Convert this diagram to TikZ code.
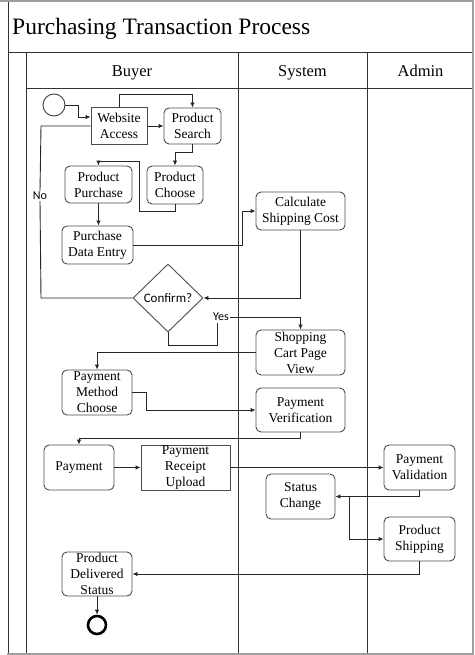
\documentclass[tikz,border=0pt]{standalone}
\usepackage{fontspec}
\setmainfont{Liberation Serif}
\newfontfamily\calib{Carlito}
\usetikzlibrary{arrows.meta,shapes.geometric}
\begin{document}
\begin{tikzpicture}[x=1pt,y=-1pt,
  box/.style={draw=black!70,line width=0.9pt,rounded corners=5pt,align=center,inner sep=0pt,font=\fontsize{13.5}{16}\selectfont},
  sbox/.style={box,rounded corners=0pt},
  conn/.style={draw=black!85,line width=0.9pt,-{Latex[length=5pt,width=4.5pt]}},
  plainline/.style={draw=black!85,line width=0.9pt},
  lane/.style={draw=black!80,line width=1pt},
  lbl/.style={font=\calib\fontsize{12}{14}\selectfont,fill=white,inner sep=1pt},
  hdr/.style={font=\fontsize{16.5}{19}\selectfont,anchor=base},
]
\useasboundingbox (0,0) rectangle (474,655);
% frame
\fill[gray!75] (0,0) rectangle (474,2);
\fill[gray!75] (472,0) rectangle (474,655);
\fill[gray!75] (7,652.5) rectangle (474,655);
\draw[lane] (8,2) -- (8,653);
\draw[lane] (8,53) -- (472,53);
\draw[lane] (26,53) -- (26,653);
\draw[lane] (26,89) -- (472,89);
\draw[lane] (238,53) -- (238,653);
\draw[lane] (367,53) -- (367,653);
\node[anchor=base west,inner sep=0pt,font=\fontsize{23.5}{26}\selectfont] (title) at (12,35) {Purchasing Transaction Process};
\node[hdr] (hb) at (132,77) {Buyer};
\node[hdr] (hs) at (302.5,77) {System};
\node[hdr] (ha) at (420.5,77) {Admin};
% nodes
\node[draw=black!75,line width=0.9pt,circle,minimum size=22pt,inner sep=0pt] (st) at (54,105) {};
\node[sbox,minimum width=56pt,minimum height=37pt] (wa) at (119,125.5) {Website\\Access};
\node[box,minimum width=57pt,minimum height=36pt] (ps) at (192.5,126) {Product\\Search};
\node[box,minimum width=67pt,minimum height=37pt] (pp) at (98.5,184.5) {Product\\Purchase};
\node[box,minimum width=56pt,minimum height=38pt] (pc) at (175,185) {Product\\Choose};
\node[box,minimum width=89pt,minimum height=38pt] (csc) at (300.5,211) {Calculate\\Shipping Cost};
\node[box,minimum width=71pt,minimum height=38pt] (pde) at (97.5,245) {Purchase\\Data Entry};
\node[diamond,draw=black!70,line width=0.9pt,minimum width=70pt,minimum height=68pt,inner sep=0pt,font=\calib\fontsize{13}{15}\selectfont] (cf) at (168,298) {Confirm?};
\node[box,minimum width=89pt,minimum height=45pt] (scp) at (300.5,352.5) {Shopping\\Cart Page\\View};
\node[box,minimum width=70pt,minimum height=45pt] (pmc) at (97,392.5) {Payment\\Method\\Choose};
\node[box,minimum width=89pt,minimum height=44pt] (pv) at (300.5,410) {Payment\\Verification};
\node[box,minimum width=70pt,minimum height=45pt] (pay) at (79,467.5) {Payment};
\node[sbox,minimum width=89pt,minimum height=45pt] (pru) at (185.5,467.5) {Payment\\Receipt\\Upload};
\node[box,minimum width=71pt,minimum height=45pt] (pval) at (419.5,467.5) {Payment\\Validation};
\node[box,minimum width=69pt,minimum height=45pt] (sc) at (300.5,496.5) {Status\\Change};
\node[box,minimum width=71pt,minimum height=44pt] (pship) at (419.5,539) {Product\\Shipping};
\node[box,minimum width=70pt,minimum height=44pt] (pds) at (97,574) {Product\\Delivered\\Status};
\node[draw=black,line width=2.6pt,circle,minimum size=18pt,inner sep=0pt] (en) at (97,625) {};
% labels
\node[lbl] (no) at (40,196) {No};
\node[lbl] (yes) at (221,317) {Yes};
\coordinate (j) at (349,496.5);
% connectors
\draw[conn] (st.east) -- (78,105) -- (78,117) -- (wa.west |- 0,117);
\draw[conn] (wa.east |- 0,126) -- (ps.west |- 0,126);
\draw[conn] (wa.north) -- (119,94) -| (ps.north);
\draw[conn] (ps.south) -- (192.5,152) -| (pc.north);
\draw[conn] (pc.south) -- (175,211) -- (139,211) -- (139,161) -| (pp.north);
\draw[conn] (pp.south) -- (pp.south |- pde.north);
\draw[conn] (pde.east) -- (242,245) |- (csc.west);
\draw[conn] (csc.south) |- (cf.east);
\draw[plainline] (cf.west) -- (41,298) -- (no.south);
\draw[plainline] (no.north) -- (41,126) -- (wa.west |- 0,126);
\draw[plainline] (cf.south) -- (168,345) -- (217,345) -- (217,322.5);
\draw[conn] (yes.east) -- (300.5,317) -- (scp.north);
\draw[conn] (scp.west) -| (pmc.north);
\draw[conn] (pmc.east) -- (146,392.5) |- (pv.west);
\draw[conn] (pv.south) -- (300.5,438) -| (pay.north);
\draw[conn] (pay.east) -- (pru.west);
\draw[conn] (pru.east) -- (pval.west);
\draw[conn] (pval.south) |- (sc.east);
\draw[conn] (j) |- (pship.west);
\draw[conn] (pship.south) |- (pds.east);
\draw[conn] (pds.south) -- (en.north);
\end{tikzpicture}
\end{document}
